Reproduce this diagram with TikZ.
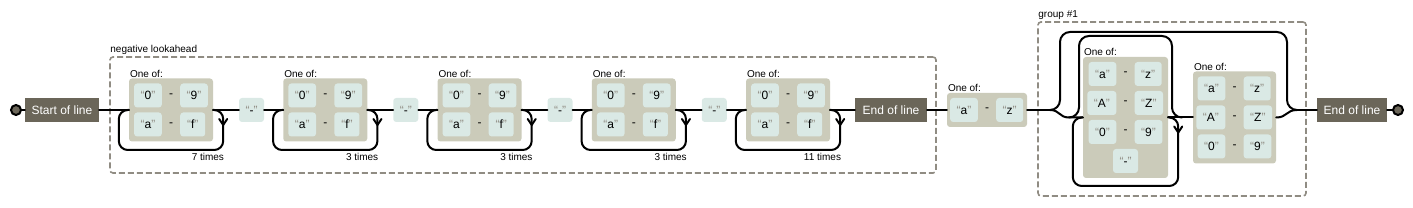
\documentclass[tikz,border=0pt]{standalone}
\usepackage{fontspec}
\setmainfont{Liberation Sans}
\usepackage{tikz}
\usetikzlibrary{positioning, calc, arrows.meta}
\definecolor{anchorc}{HTML}{6B6659}
\definecolor{setc}{HTML}{CBCBBA}
\definecolor{litc}{HTML}{DAE9E5}
\definecolor{subc}{HTML}{908C83}
\definecolor{quotec}{HTML}{908C83}
\newcommand{\lit}[1]{\textcolor{quotec}{“}#1\textcolor{quotec}{”}}
\tikzset{
    rail/.style={line width=2pt, line cap=round},
    anchorbox/.style={fill=anchorc, text=white, minimum height=24pt, inner xsep=4pt,
        font=\fontsize{12}{14}\selectfont},
    setbox/.style={fill=setc, rounded corners=3pt, inner sep=0pt},
    litbox/.style={fill=litc, rounded corners=3pt, minimum height=24pt, minimum width=25pt,
        inner xsep=6.5pt, inner ysep=0pt, font=\fontsize{12}{14}\selectfont},
    rangetxt/.style={inner sep=0pt, font=\fontsize{12}{14}\selectfont},
    subbox/.style={draw=subc, line width=1.6pt, dash pattern=on 6pt off 3pt, rounded corners=3pt},
    tag/.style={inner sep=1pt, font=\fontsize{10}{12}\selectfont},
    endpt/.style={circle, draw, line width=2pt, fill=anchorc, minimum size=10pt, inner sep=0pt}
}
\begin{document}
\begin{tikzpicture}[x=1pt, y=-1pt]
    \useasboundingbox (0,0) rectangle (1413,208);

    % dashed groups
    \node[subbox, minimum width=826pt, minimum height=116pt] (look) at (523,115) {};
    \node[tag, anchor=south west] (looklbl) at (look.north west) {negative lookahead};
    \node[subbox, minimum width=268pt, minimum height=174pt] (grp) at (1172,109) {};
    \node[tag, anchor=south west] (grplbl) at (grp.north west) {group \#1};

    \node[endpt] (start) at (16,110) {};
    \node[anchorbox, minimum width=74pt] (sol) at (62,110) {Start of line};

    % the five hex blocks
    \foreach \n [count=\i from 0] in {7,3,3,3,11} {
        \node[setbox, minimum width=84pt, minimum height=63pt] (set\i) at ({171+154.25*\i},110) {};
        \node[tag, anchor=south west] (lbl\i) at (set\i.north west) {One of:};
        \node[litbox, anchor=east] (set\i-lo1) at ($(set\i)+(-9,-14.5)$) {\lit{0}};
        \node[rangetxt] (set\i-to1) at ($(set\i)+(0,-14.5)$) {-};
        \node[litbox, anchor=west] (set\i-hi1) at ($(set\i)+(9,-14.5)$) {\lit{9}};
        \node[litbox, anchor=east] (set\i-lo2) at ($(set\i)+(-9,14.5)$) {\lit{a}};
        \node[rangetxt] (set\i-to2) at ($(set\i)+(0,14.5)$) {-};
        \node[litbox, anchor=west] (set\i-hi2) at ($(set\i)+(9,14.5)$) {\lit{f}};
        % repeat loop
        \draw[rail, rounded corners=9pt] (set\i.east) -| ++(10,40) -| ($(set\i.west)+(-10,0)$) -- (set\i.west);
        \draw[rail] ($(set\i.east)+(6,9)$) -- ++(4,6) -- ++(4,-6);
        \node[tag, anchor=north east] (cnt\i) at ($(set\i.east)+(12,42)$) {\n\ times};
    }
    \foreach \i in {0,...,3} {
        \node[litbox] (hy\i) at ({251.5+154.25*\i},110) {\lit{-}};
    }

    \node[anchorbox, minimum width=72pt] (eol1) at (891,110) {End of line};

    % a-z
    \node[setbox, minimum width=80pt, minimum height=34pt] (setaz) at (987,110) {};
    \node[tag, anchor=south west] (lblaz) at (setaz.north west) {One of:};
    \node[litbox, anchor=east] (setaz-lo) at ($(setaz)+(-9,0)$) {\lit{a}};
    \node[rangetxt] (setaz-to) at (setaz) {-};
    \node[litbox, anchor=west] (setaz-hi) at ($(setaz)+(9,0)$) {\lit{z}};

    % [a-zA-Z0-9-]
    \node[setbox, minimum width=85pt, minimum height=121pt] (setw) at (1125.5,117.5) {};
    \node[tag, anchor=south west] (lblw) at (setw.north west) {One of:};
    \foreach \lo/\hi [count=\r from 0] in {a/z, A/Z, 0/9} {
        \node[litbox, anchor=east] (setw-lo\r) at ($(setw)+(-9,-43.5+29*\r)$) {\lit{\lo}};
        \node[rangetxt] (setw-to\r) at ($(setw)+(0,-43.5+29*\r)$) {-};
        \node[litbox, anchor=west] (setw-hi\r) at ($(setw)+(9,-43.5+29*\r)$) {\lit{\hi}};
    }
    \node[litbox] (setw-hy) at ($(setw)+(0,43.5)$) {\lit{-}};

    % [a-zA-Z0-9]
    \node[setbox, minimum width=83pt, minimum height=92pt] (setx) at (1234.5,117.5) {};
    \node[tag, anchor=south west] (lblx) at (setx.north west) {One of:};
    \foreach \lo/\hi [count=\r from 0] in {a/z, A/Z, 0/9} {
        \node[litbox, anchor=east] (setx-lo\r) at ($(setx)+(-9,-29+29*\r)$) {\lit{\lo}};
        \node[rangetxt] (setx-to\r) at ($(setx)+(0,-29+29*\r)$) {-};
        \node[litbox, anchor=west] (setx-hi\r) at ($(setx)+(9,-29+29*\r)$) {\lit{\hi}};
    }

    \node[anchorbox, minimum width=70pt] (eol2) at (1352,110) {End of line};
    \node[endpt] (fin) at (1398,110) {};

    \coordinate (fork) at (1050,110);
    \coordinate (join) at (1297,110);
    \coordinate (skipin) at (1069,117.5);
    \coordinate (skipout) at (1182,117.5);

    % rails
    \draw[rail] (start) -- (sol) -- (set0);
    \foreach \i [evaluate=\i as \j using int(\i+1)] in {0,...,3} {
        \draw[rail] (set\i) -- (hy\i) -- (set\j);
    }
    \draw[rail] (set4) -- (eol1) -- (setaz);
    \draw[rail] (setaz) -- (fork);
    \draw[rail, rounded corners=10pt] (fork) -| ++(10,-78) -| ($(join)+(-10,0)$) -- (join);
    \draw[rail] (fork) .. controls +(10,0) and +(-10,0) .. (skipin) -- (setw);
    \draw[rail, rounded corners=10pt] (skipin) -| ++(10,-81.5) -| ($(skipout)+(-10,0)$) -- (skipout);
    \draw[rail, rounded corners=9pt] (setw.east) -| ++(10,68.5) -| ($(setw.west)+(-10,0)$) -- (setw.west);
    \draw[rail] ($(setw.east)+(6,9)$) -- ++(4,6) -- ++(4,-6);
    \draw[rail] (setw) -- (skipout) -- (setx);
    \draw[rail] (setx.east) .. controls +(11,0) and +(-11,0) .. (join);
    \draw[rail] (join) -- (eol2) -- (fin);
\end{tikzpicture}
\end{document}
